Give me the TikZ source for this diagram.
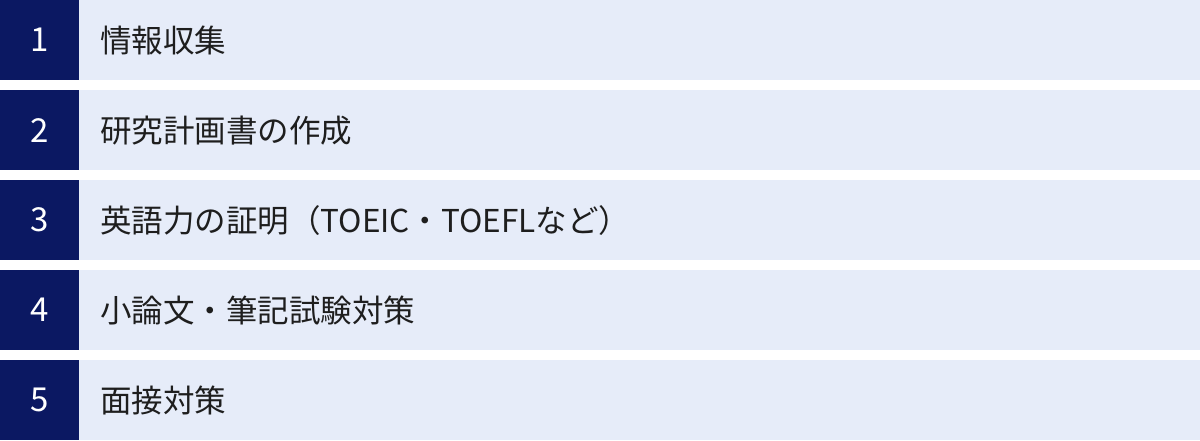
\documentclass[tikz,border=0pt]{standalone}
\usepackage{fontspec}
\setmainfont{Noto Sans CJK JP}
\definecolor{navy}{HTML}{0B1862}
\definecolor{lightbar}{HTML}{E6ECF9}
\definecolor{txt}{HTML}{1E1E1E}
\begin{document}
\begin{tikzpicture}[x=1pt,y=1pt,
  numbox/.style={fill=navy,draw=none,inner sep=0pt,minimum width=79pt,minimum height=80pt,anchor=north west,text=white,font=\fontsize{33}{33}\selectfont},
  barbox/.style={fill=lightbar,draw=none,inner sep=0pt,minimum width=1121pt,minimum height=80pt,anchor=north west},
  label/.style={anchor=west,inner sep=0pt,text=txt,font=\fontsize{31.5}{31.5}\selectfont}]
\useasboundingbox (0,0) rectangle (1200,-441);
\foreach \i/\t in {1/情報収集,2/研究計画書の作成,3/英語力の証明（TOEIC・TOEFLなど）,4/小論文・筆記試験対策,5/面接対策}{
  \pgfmathsetmacro{\top}{-(\i-1)*90}
  \node[barbox] (bar\i) at (79,\top) {};
  \node[numbox] (num\i) at (0,\top) {\i};
  \node[label] (lab\i) at ([xshift=21pt]bar\i.west) {\t};
}
\end{tikzpicture}
\end{document}
